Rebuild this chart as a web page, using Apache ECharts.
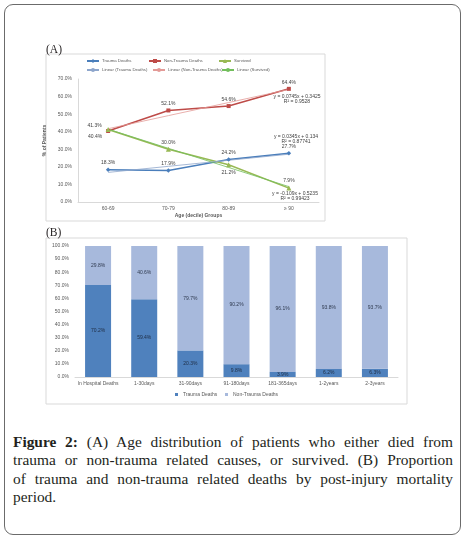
<!DOCTYPE html>
<html>
<head>
<meta charset="utf-8">
<script src="https://cdn.jsdelivr.net/npm/echarts@6/dist/echarts.min.js"></script>
<style>
  html, body { margin: 0; padding: 0; background: #fff; }
  #frame { position: absolute; left: 4px; top: 4px; width: 455px; height: 529px;
           border: 1.5px solid #6b6b6b; border-radius: 9px; }
  #chart { position: absolute; left: 0; top: 0; width: 466px; height: 410px; }
  #caption { position: absolute; left: 13px; top: 433px; width: 440px;
             font-family: 'Liberation Serif', serif; font-size: 15.4px;
             line-height: 18.3px; color: #231f20; }
  #caption .ln { text-align: justify; text-align-last: justify; white-space: nowrap; }
  #caption .last { text-align: left; text-align-last: left; }
</style>
</head>
<body>
<div id="frame"></div>
<div id="chart"></div>
<div id="caption">
  <div class="ln"><b>Figure 2:</b> (A) Age distribution of patients who either died from</div>
  <div class="ln">trauma or non-trauma related causes, or survived. (B) Proportion</div>
  <div class="ln">of trauma and non-trauma related deaths by post-injury mortality</div>
  <div class="ln last">period.</div>
</div>
<script>
// (A) age groups, % of patients
const ageGroups = ['60-69', '70-79', '80-89', '\u2265 90']
const traumaDeaths = [18.3, 17.9, 24.2, 27.7]
const nonTraumaDeaths = [40.4, 52.1, 54.6, 64.4]
const survived = [41.3, 30.0, 21.2, 7.9]
// linear trendlines as drawn in the figure
const traumaTrend = [16.85, 20.3, 23.75, 27.2]
const nonTraumaTrend = [41.7, 49.15, 56.6, 64.05]
const survivedTrend = [41.45, 30.55, 19.65, 8.75]
const trendNotes = [
  ['y = 0.0745x + 0.3425', 'R\u00b2 = 0.9528'],
  ['y = 0.0345x + 0.134', 'R\u00b2 = 0.87741'],
  ['y = -0.109x + 0.5235', 'R\u00b2 = 0.99423']
]

// (B) post-injury mortality period, % of deaths
const periods = ['In Hospital Deaths', '1-30days', '31-90days', '91-180days', '181-365days', '1-2years', '2-3years']
const traumaShare = [70.2, 59.4, 20.3, 9.8, 3.9, 6.2, 6.3]
const nonTraumaShare = [29.8, 40.6, 79.7, 90.2, 96.1, 93.8, 93.7]

const FONT = 'Liberation Sans'
const TXT = '#595959'
const pct = v => (typeof v === 'object' ? v.value : v).toFixed(1) + '%'
const tiny = { fontFamily: FONT, fontSize: 5, color: TXT }

const chart = echarts.init(document.getElementById('chart'))

// per-point label placement for panel A
const lbl = (i, special) => Object.assign(
  { show: true, position: 'top', distance: 2, formatter: p => pct(p.value), fontFamily: FONT, fontSize: 5, color: '#404040' },
  special[i] || {}
)

const lineLegend = (name, left, top) => ({
  data: [name], left, top, padding: 0, itemGap: 0, itemWidth: 12, itemHeight: 5,
  textStyle: { fontFamily: FONT, fontSize: 4.3, color: TXT, padding: [0, 0, 0, -2] }
})
const barLegend = (name, left, top) => ({
  data: [name], left, top, padding: 0, itemWidth: 3, itemHeight: 3, icon: 'rect',
  textStyle: { fontFamily: FONT, fontSize: 5, color: TXT }
})

const note = (lines, x, y) => lines.map((t, k) => ({
  type: 'text', x, y: y + k * 4.6,
  style: { text: t, font: '5px ' + FONT, fill: '#404040', align: 'center', verticalAlign: 'middle', textAlign: 'center', textVerticalAlign: 'middle' }
}))

const option = {
  animation: false,
  graphic: [
    { type: 'rect', shape: { x: 46, y: 54, width: 279, height: 167 }, style: { fill: 'none', stroke: '#d9d9d9', lineWidth: 1 } },
    { type: 'rect', shape: { x: 46, y: 238, width: 361, height: 166 }, style: { fill: 'none', stroke: '#d9d9d9', lineWidth: 1 } },
    { type: 'text', x: 46, y: 50, style: { text: '(A)', font: '11.5px Liberation Serif', fill: '#231f20', verticalAlign: 'middle', textVerticalAlign: 'middle' } },
    { type: 'text', x: 46, y: 233, style: { text: '(B)', font: '11.5px Liberation Serif', fill: '#231f20', verticalAlign: 'middle', textVerticalAlign: 'middle' } },
    ...note(trendNotes[0], 297, 97),
    ...note(trendNotes[1], 296, 137),
    ...note(trendNotes[2], 295, 194)
  ],
  legend: [
    lineLegend('Trauma Deaths', 86, 59),
    lineLegend('Non-Trauma Deaths', 148, 59),
    lineLegend('Survived', 218, 59),
    lineLegend('Linear (Trauma Deaths)', 86, 68),
    lineLegend('Linear (Non-Trauma Deaths)', 152, 68),
    lineLegend('Linear (Survived)', 221, 68),
    barLegend('Trauma Deaths ', 175, 392),
    barLegend('Non-Trauma Deaths ', 225, 392)
  ],
  grid: [
    { left: 78, top: 79, width: 241, height: 123 },
    { left: 75, top: 246, width: 323, height: 131 }
  ],
  xAxis: [
    {
      gridIndex: 0, type: 'category', data: ageGroups,
      name: 'Age (decile) Groups', nameLocation: 'middle', nameGap: 11,
      nameTextStyle: Object.assign({}, tiny, { fontWeight: 'bold' }),
      axisLine: { lineStyle: { color: '#d9d9d9' } }, axisTick: { show: false },
      axisLabel: Object.assign({ margin: 4 }, tiny)
    },
    {
      gridIndex: 1, type: 'category', data: periods,
      axisLine: { lineStyle: { color: '#d9d9d9' } }, axisTick: { show: false },
      axisLabel: Object.assign({ margin: 4, interval: 0 }, tiny)
    }
  ],
  yAxis: [
    {
      gridIndex: 0, type: 'value', min: 0, max: 70, interval: 10,
      name: '% of Patients', nameLocation: 'middle', nameGap: 19, nameRotate: 90,
      nameTextStyle: Object.assign({}, tiny, { fontWeight: 'bold' }),
      axisLine: { show: true, lineStyle: { color: '#d9d9d9' } }, axisTick: { show: false },
      splitLine: { show: false },
      axisLabel: Object.assign({ margin: 6, formatter: v => v.toFixed(1) + '%' }, tiny)
    },
    {
      gridIndex: 1, type: 'value', min: 0, max: 100, interval: 10,
      axisLine: { show: false }, axisTick: { show: false }, splitLine: { show: false },
      axisLabel: Object.assign({ margin: 6, formatter: v => v.toFixed(1) + '%' }, tiny)
    }
  ],
  series: [
    {
      name: 'Trauma Deaths', type: 'line', xAxisIndex: 0, yAxisIndex: 0,
      data: traumaDeaths.map((v, i) => ({ value: v, label: lbl(i, {}) })),
      symbol: 'diamond', symbolSize: 4.5,
      itemStyle: { color: '#4A7EBB' }, lineStyle: { color: '#4A7EBB', width: 1.5 }
    },
    {
      name: 'Non-Trauma Deaths', type: 'line', xAxisIndex: 0, yAxisIndex: 0,
      data: nonTraumaDeaths.map((v, i) => ({ value: v, label: lbl(i, { 0: { position: 'left', distance: 4, offset: [0, 6] } }) })),
      symbol: 'rect', symbolSize: 4,
      itemStyle: { color: '#BE4B48' }, lineStyle: { color: '#BE4B48', width: 1.5 }
    },
    {
      name: 'Survived', type: 'line', xAxisIndex: 0, yAxisIndex: 0,
      data: survived.map((v, i) => ({ value: v, label: lbl(i, { 0: { position: 'left', distance: 4, offset: [0, -4] }, 2: { position: 'bottom', distance: 3 } }) })),
      symbol: 'triangle', symbolSize: 5,
      itemStyle: { color: '#98B954' }, lineStyle: { color: '#98B954', width: 1.5 }
    },
    {
      name: 'Linear (Trauma Deaths)', type: 'line', xAxisIndex: 0, yAxisIndex: 0,
      data: traumaTrend, symbol: 'none', silent: true,
      itemStyle: { color: '#8EA6CC' }, lineStyle: { color: '#8EA6CC', width: 0.8 }
    },
    {
      name: 'Linear (Non-Trauma Deaths)', type: 'line', xAxisIndex: 0, yAxisIndex: 0,
      data: nonTraumaTrend, symbol: 'none', silent: true,
      itemStyle: { color: '#E39A97' }, lineStyle: { color: '#E39A97', width: 0.8 }
    },
    {
      name: 'Linear (Survived)', type: 'line', xAxisIndex: 0, yAxisIndex: 0,
      data: survivedTrend, symbol: 'none', silent: true,
      itemStyle: { color: '#72BE5C' }, lineStyle: { color: '#72BE5C', width: 0.8 }
    },
    {
      name: 'Trauma Deaths ', type: 'bar', xAxisIndex: 1, yAxisIndex: 1, stack: 'deaths',
      data: traumaShare, barWidth: 26,
      itemStyle: { color: '#4F81BD' },
      label: { show: true, position: 'inside', formatter: p => pct(p.value), fontFamily: FONT, fontSize: 5, color: '#1f2d44' }
    },
    {
      name: 'Non-Trauma Deaths ', type: 'bar', xAxisIndex: 1, yAxisIndex: 1, stack: 'deaths',
      data: nonTraumaShare, barWidth: 26,
      itemStyle: { color: '#A7B9DC' },
      label: { show: true, position: 'inside', formatter: p => pct(p.value), fontFamily: FONT, fontSize: 5, color: '#2f3a4f' }
    }
  ]
}

chart.setOption(option)
</script>
</body>
</html>
